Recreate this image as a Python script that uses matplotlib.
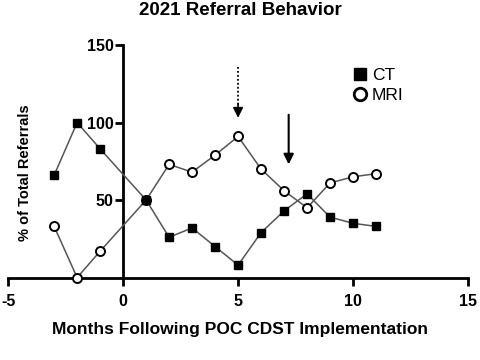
import numpy as np
import matplotlib
matplotlib.use("Agg")
import matplotlib.pyplot as plt
from matplotlib.lines import Line2D

plt.rcParams['font.family'] = ['Liberation Sans', 'DejaVu Sans']
plt.rcParams['axes.unicode_minus'] = False

# data
months = [-3, -2, -1, 1, 2, 3, 4, 5, 6, 7, 8, 9, 10, 11]
ct = [66, 100, 83, 50, 26, 32, 20, 8, 29, 43, 54, 39, 35, 33]
mri = [33, 0, 17, 50, 73, 68, 79, 91, 70, 56, 45, 61, 65, 67]

# arrow annotations (x, top, tip)
dotted_arrow = (5, 136, 103)
solid_arrow = (7.2, 105, 73)

fig = plt.figure(figsize=(4.8, 3.6), dpi=100)
ax = fig.add_axes([0.017, 0.229, 0.958, 0.646])

ax.plot(months, mri, color='#555555', lw=1.1, marker='o', ms=6.5,
        mfc='white', mec='black', mew=1.4, clip_on=False, zorder=3)
ax.plot(months, ct, color='#555555', lw=1.1, marker='s', ms=6,
        mfc='black', mec='black', clip_on=False, zorder=4)

# dotted arrow: shaft dotted, head solid
x, top, tip = dotted_arrow
ax.plot([x, x], [top, tip + 8], color='black', lw=1.3, ls=(0, (1, 1.2)))
ax.annotate('', xy=(x, tip), xytext=(x, tip + 9),
            arrowprops=dict(arrowstyle='-|>,head_length=0.6,head_width=0.3',
                            color='black', lw=1.2, shrinkA=0, shrinkB=0))
x, top, tip = solid_arrow
ax.annotate('', xy=(x, tip), xytext=(x, top),
            arrowprops=dict(arrowstyle='-|>,head_length=0.6,head_width=0.3',
                            color='black', lw=1.5, shrinkA=0, shrinkB=0))

ax.set_xlim(-5, 15)
ax.set_ylim(0, 150)
ax.spines['left'].set_position(('data', 0))
ax.spines['bottom'].set_position(('data', 0))
ax.spines['right'].set_visible(False)
ax.spines['top'].set_visible(False)
for s in ('left', 'bottom'):
    ax.spines[s].set_linewidth(2)

ax.set_xticks([-5, 0, 5, 10, 15])
ax.set_yticks([50, 100, 150])
ax.tick_params(width=2, length=6, labelsize=11.5)
ax.tick_params(axis='x', pad=6)
ax.tick_params(axis='y', pad=1)
for lab in ax.get_xticklabels() + ax.get_yticklabels():
    lab.set_fontweight('bold')

fig.text(0.5, 0.085, 'Months Following POC CDST Implementation',
         ha='center', va='center', fontsize=12.5, fontweight='bold')
fig.text(0.052, 0.52, '% of Total Referrals', rotation=90,
         ha='center', va='center', fontsize=10.5, fontweight='bold')
fig.text(0.5, 0.972, '2021 Referral Behavior', ha='center', va='center',
         fontsize=13.5, fontweight='bold')

handles = [Line2D([], [], ls='none', marker='s', ms=9, mfc='black', mec='black'),
           Line2D([], [], ls='none', marker='o', ms=9, mfc='white', mec='black', mew=2)]
fig.legend(handles, ['CT', 'MRI'], loc='upper left', bbox_to_anchor=(0.71, 0.835),
           frameon=False, fontsize=12.5, handletextpad=0.1, labelspacing=0.25,
           handlelength=1.2, borderpad=0)

fig.savefig('out.png', dpi=100)
